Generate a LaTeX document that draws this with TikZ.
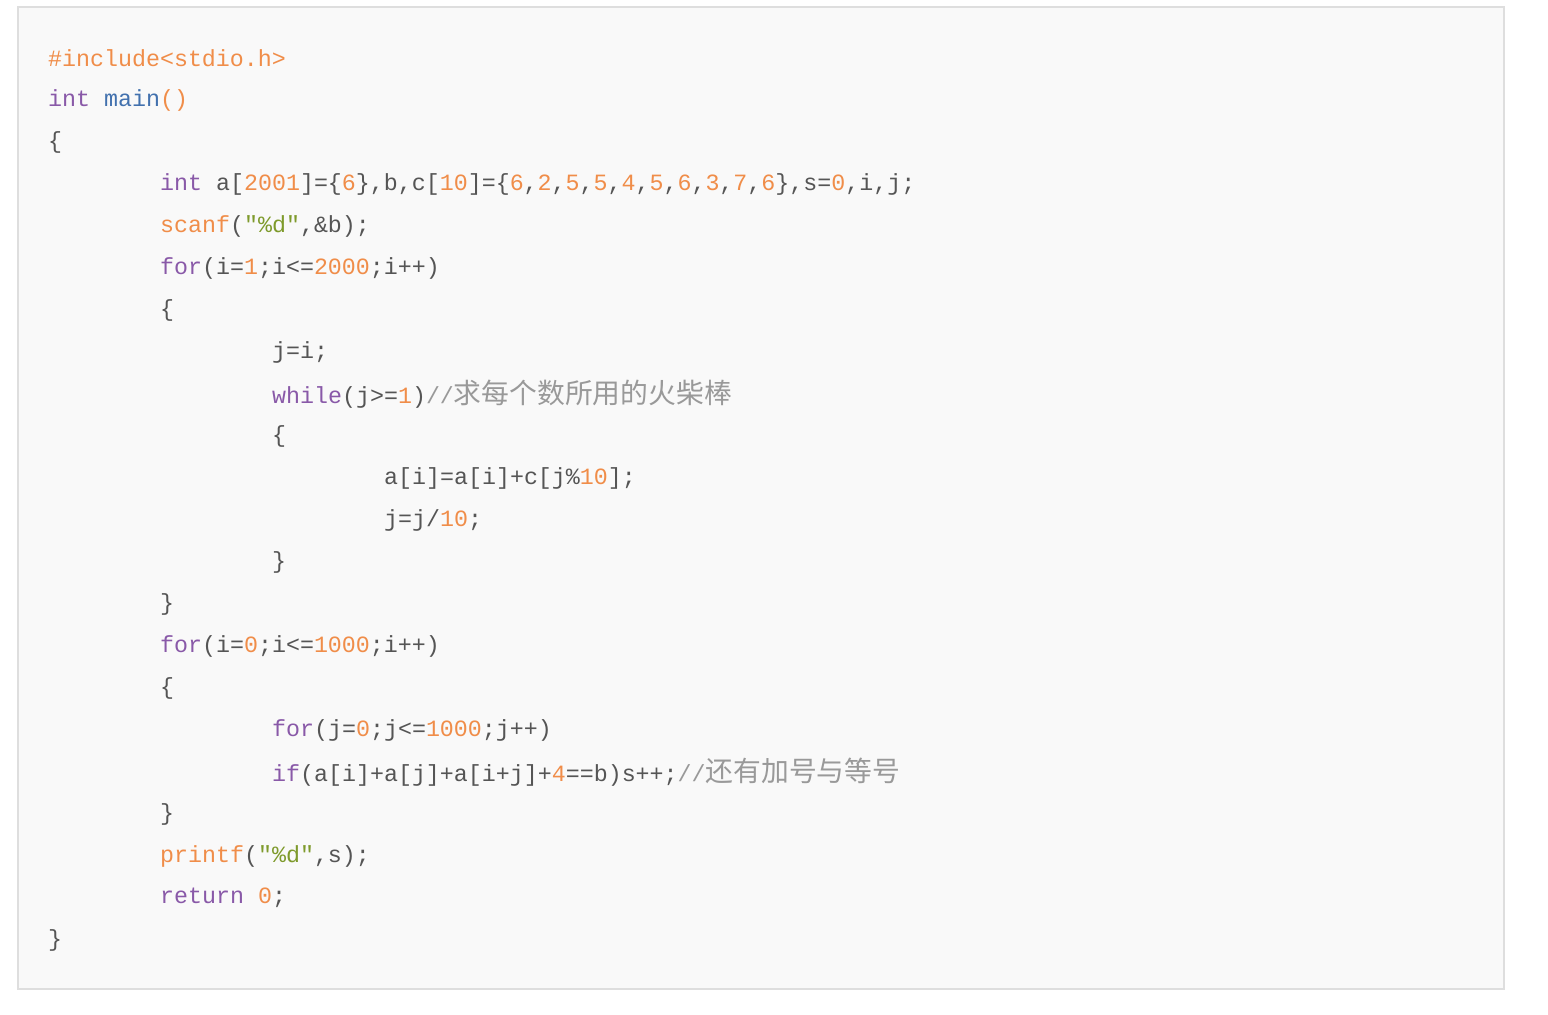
\documentclass[tikz,border=0pt]{standalone}
\usepackage{fontspec}
\setmonofont{Liberation Mono}
\newfontfamily\cjk{Noto Sans CJK SC}
\definecolor{txt}{HTML}{555555}
\definecolor{kw}{HTML}{8959A8}
\definecolor{fn}{HTML}{4271AE}
\definecolor{num}{HTML}{F08D49}
\definecolor{str}{HTML}{7E9A2B}
\definecolor{cmt}{HTML}{999999}
\newcommand\Kw[1]{\textcolor{kw}{#1}}
\newcommand\Fn[1]{\textcolor{fn}{#1}}
\newcommand\Nm[1]{\textcolor{num}{#1}}
\newcommand\St[1]{\textcolor{str}{#1}}
\newcommand\Cm[1]{\textcolor{cmt}{#1}}
\newcommand\Zh[1]{{\cjk\fontsize{27.8}{30}\selectfont #1}}
\begin{document}
\begin{tikzpicture}[x=1pt,y=-1pt,
  codeline/.style={anchor=west,inner sep=0pt,text=txt,font=\ttfamily\fontsize{23.3}{28}\selectfont}]
\useasboundingbox (0,0) rectangle (1548,1015);
\fill[white] (0,0) rectangle (1548,1015);
\draw[draw={rgb,255:red,222;green,222;blue,222},fill={rgb,255:red,249;green,249;blue,249},line width=1.5pt] (18,7) rectangle (1504,989);
\node[codeline] (l1) at (48,58) {\Nm{\#include<stdio.h>}};
\node[codeline] (l2) at (48,100) {\Kw{int} \Fn{main}\Nm{()}};
\node[codeline] (l3) at (48,142) {\{};
\node[codeline] (l4) at (160,184) {\Kw{int} a[\Nm{2001}]=\{\Nm{6}\},b,c[\Nm{10}]=\{\Nm{6},\Nm{2},\Nm{5},\Nm{5},\Nm{4},\Nm{5},\Nm{6},\Nm{3},\Nm{7},\Nm{6}\},s=\Nm{0},i,j;};
\node[codeline] (l5) at (160,226) {\Nm{scanf}(\St{"\%d"},\&b);};
\node[codeline] (l6) at (160,268) {\Kw{for}(i=\Nm{1};i<=\Nm{2000};i++)};
\node[codeline] (l7) at (160,310) {\{};
\node[codeline] (l8) at (272,352) {j=i;};
\node[codeline] (l9) at (272,394) {\Kw{while}(j>=\Nm{1})\Cm{//\Zh{求每个数所用的火柴棒}}};
\node[codeline] (l10) at (272,436) {\{};
\node[codeline] (l11) at (384,478) {a[i]=a[i]+c[j\%\Nm{10}];};
\node[codeline] (l12) at (384,520) {j=j/\Nm{10};};
\node[codeline] (l13) at (272,562) {\}};
\node[codeline] (l14) at (160,604) {\}};
\node[codeline] (l15) at (160,646) {\Kw{for}(i=\Nm{0};i<=\Nm{1000};i++)};
\node[codeline] (l16) at (160,688) {\{};
\node[codeline] (l17) at (272,730) {\Kw{for}(j=\Nm{0};j<=\Nm{1000};j++)};
\node[codeline] (l18) at (272,772) {\Kw{if}(a[i]+a[j]+a[i+j]+\Nm{4}==b)s++;\Cm{//\Zh{还有加号与等号}}};
\node[codeline] (l19) at (160,814) {\}};
\node[codeline] (l20) at (160,856) {\Nm{printf}(\St{"\%d"},s);};
\node[codeline] (l21) at (160,898) {\Kw{return} \Nm{0};};
\node[codeline] (l22) at (48,940) {\}};
\end{tikzpicture}
\end{document}
